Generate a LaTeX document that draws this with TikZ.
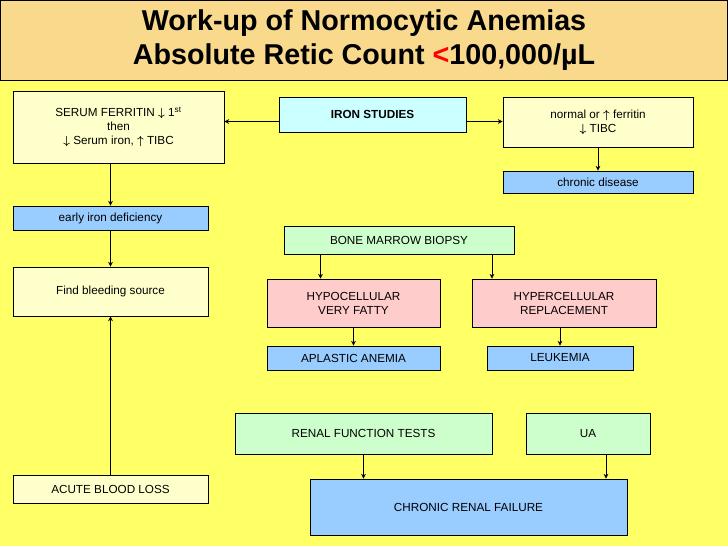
\documentclass[tikz,border=0pt]{standalone}
\usepackage{fontspec}
\setmainfont{Liberation Sans}
\usetikzlibrary{arrows.meta, positioning}
\definecolor{slide}{HTML}{FFFF66}
\definecolor{titlebg}{HTML}{F9D98C}
\definecolor{pale}{HTML}{FFFFCC}
\definecolor{cyanbox}{HTML}{CCFFFF}
\definecolor{bluebox}{HTML}{99CCFF}
\definecolor{greenbox}{HTML}{CCFFCC}
\definecolor{pinkbox}{HTML}{FFCCCC}
\tikzset{
  box/.style={draw, thick, align=center, inner sep=2pt, font=\fontsize{10}{12}\selectfont},
  arr/.style={thick, -{Stealth[length=4pt, width=4pt]}}
}
\newcommand{\dn}{$\boldsymbol\downarrow$}
\newcommand{\up}{$\boldsymbol\uparrow$}
\usepackage{amsmath}
\begin{document}
\begin{tikzpicture}[x=0.03cm, y=-0.03cm]
        % Background
        \fill[slide] (0,0) rectangle (728,546);
        \useasboundingbox (0,0) rectangle (728,546);
        \draw[thick, fill=titlebg] (0,0) rectangle (727,80);
        \node[align=center, font=\fontsize{24.5}{29}\selectfont\bfseries] (title) at (364,40)
          {Work-up of Normocytic Anemias\\Absolute Retic Count {\color{red}<}100,000/µL};
        % Iron studies
        \node[box, fill=pale, minimum width=211*0.03cm, minimum height=72*0.03cm] (ferritin) at (118.5,127)
          {SERUM FERRITIN \dn{} 1\textsuperscript{st}\\then\\\dn{} Serum iron, \up{} TIBC};
        \node[box, fill=cyanbox, minimum width=187*0.03cm, minimum height=35*0.03cm, font=\fontsize{10}{12}\selectfont\bfseries] (iron) at (372.5,114.5) {IRON STUDIES};
        \node[box, fill=pale, minimum width=190*0.03cm, minimum height=50*0.03cm] (normal) at (598,122)
          {normal or \up{} ferritin\\\dn{} TIBC};
        \node[box, fill=bluebox, minimum width=190*0.03cm, minimum height=22*0.03cm] (chronic) at (598,182) {chronic disease};
        \node[box, fill=bluebox, minimum width=195*0.03cm, minimum height=24*0.03cm] (early) at (110.5,218) {early iron deficiency};
        \node[box, fill=pale, minimum width=195*0.03cm, minimum height=49*0.03cm] (bleed) at (110.5,291.5) {Find bleeding source};
        \node[box, fill=pale, minimum width=195*0.03cm, minimum height=28*0.03cm] (acute) at (110.5,489) {ACUTE BLOOD LOSS};
        % Bone marrow
        \node[box, fill=greenbox, minimum width=230*0.03cm, minimum height=28*0.03cm] (marrow) at (399,240) {BONE MARROW BIOPSY};
        \node[box, fill=pinkbox, minimum width=173*0.03cm, minimum height=48*0.03cm] (hypo) at (353.5,303) {HYPOCELLULAR\\VERY FATTY};
        \node[box, fill=pinkbox, minimum width=184*0.03cm, minimum height=48*0.03cm] (hyper) at (564,303) {HYPERCELLULAR\\REPLACEMENT};
        \node[box, fill=bluebox, minimum width=173*0.03cm, minimum height=24*0.03cm] (aplastic) at (353.5,358) {APLASTIC ANEMIA};
        \node[box, fill=bluebox, minimum width=146*0.03cm, minimum height=24*0.03cm] (leuk) at (560,358) {LEUKEMIA};
        % Renal
        \node[box, fill=greenbox, minimum width=257*0.03cm, minimum height=41*0.03cm] (renal) at (363.5,433.5) {RENAL FUNCTION TESTS};
        \node[box, fill=greenbox, minimum width=124*0.03cm, minimum height=41*0.03cm] (ua) at (588,433.5) {UA};
        \node[box, fill=bluebox, minimum width=317*0.03cm, minimum height=56*0.03cm] (ckd) at (468.5,507) {CHRONIC RENAL FAILURE};
        % Connectors
        \draw[arr] ([yshift=-7*0.03cm]iron.west) -- ([yshift=-7*0.03cm]iron.west -| ferritin.east);
        \draw[arr] ([yshift=-7*0.03cm]iron.east) -- ([yshift=-7*0.03cm]iron.east -| normal.west);
        \draw[arr] (normal) -- (chronic);
        \draw[arr] (ferritin.south -| early.north) -- (early.north);
        \draw[arr] (early) -- (bleed);
        \draw[arr] (acute) -- (bleed);
        \draw[arr] ([xshift=-33*0.03cm]hypo.north |- marrow.south) -- ([xshift=-33*0.03cm]hypo.north);
        \draw[arr] ([xshift=-72*0.03cm]hyper.north |- marrow.south) -- ([xshift=-72*0.03cm]hyper.north);
        \draw[arr] (hypo) -- (aplastic);
        \draw[arr] (hyper.south -| leuk.north) -- (leuk.north);
        \draw[arr] (renal.south) -- (renal.south |- ckd.north);
        \draw[arr] ([xshift=18*0.03cm]ua.south) -- ([xshift=18*0.03cm]ua.south |- ckd.north);
\end{tikzpicture}
\end{document}
